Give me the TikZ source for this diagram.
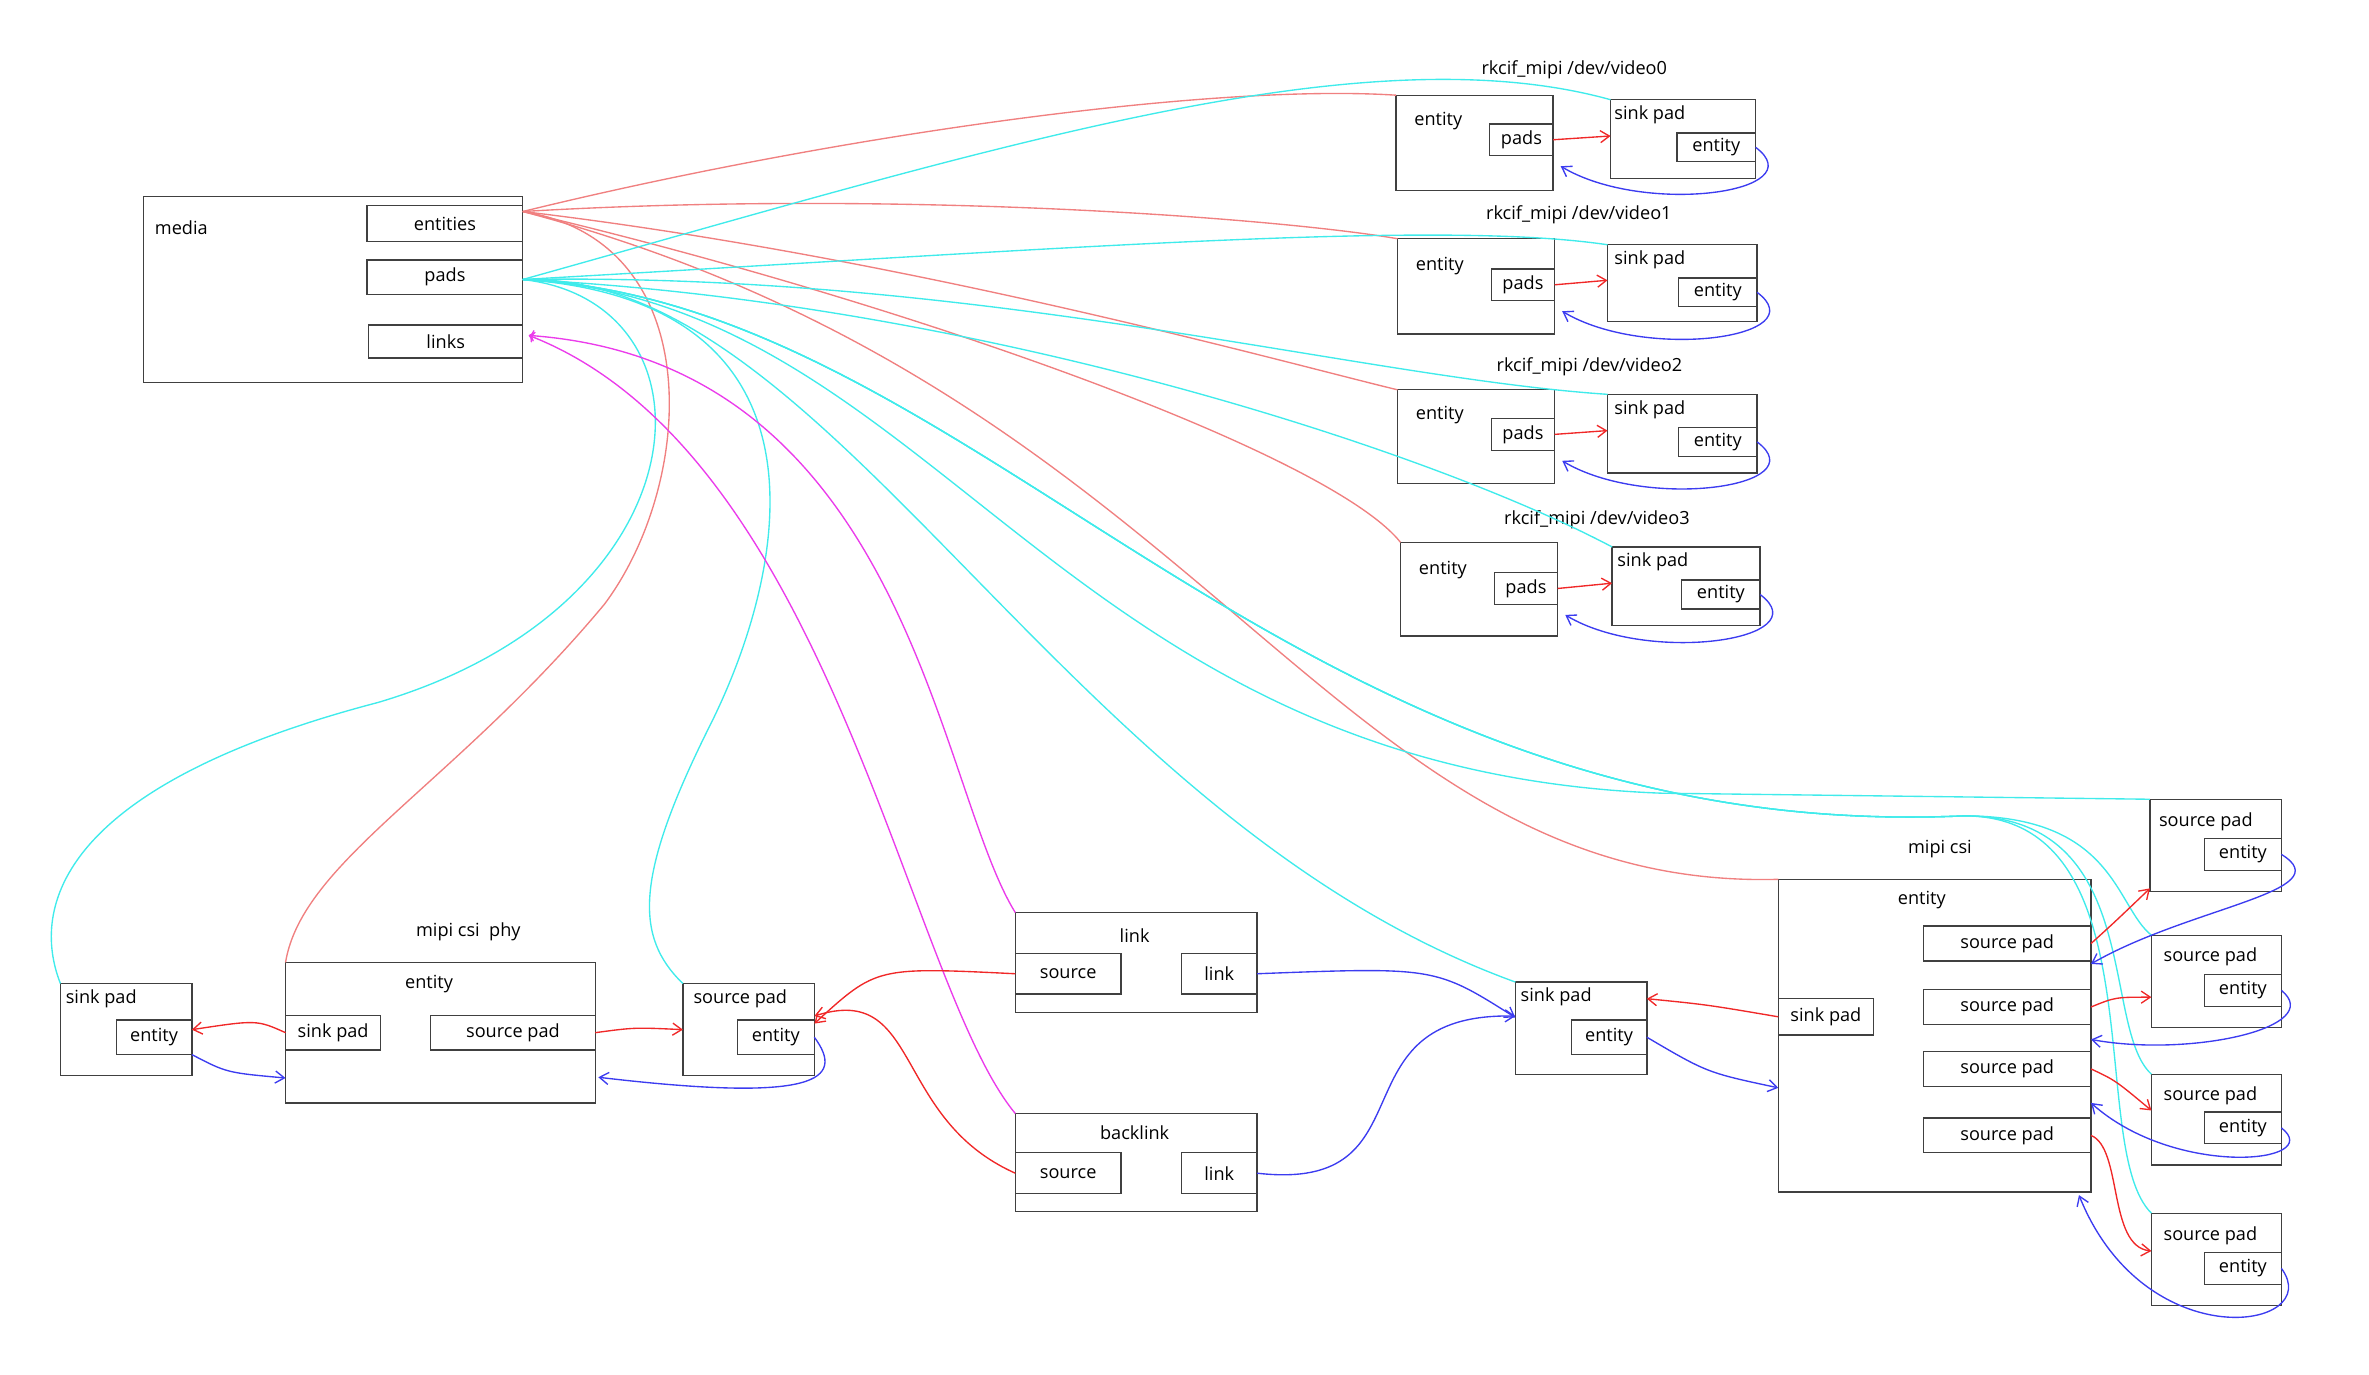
\documentclass[tikz,border=0pt]{standalone}
\usepackage{fontspec}
\setmainfont{Open Sans}
\usetikzlibrary{arrows.meta,calc}
\definecolor{salm}{RGB}{240,128,128}
\definecolor{cy}{RGB}{64,235,235}
\definecolor{mag}{RGB}{235,60,235}
\definecolor{rd}{RGB}{240,40,40}
\definecolor{bl}{RGB}{60,60,240}
\tikzset{box/.style={draw=black!75,line width=0.9pt,inner sep=0,outer sep=0},
 lab/.style={font=\fontsize{12}{14}\selectfont},
 con/.style={line width=0.9pt},
 ar/.style={con,-{Straight Barb[length=6pt,width=8pt]}}}
\newcommand\bx[6]{\pgfmathsetmacro\bw{#4-#2}\pgfmathsetmacro\bh{#5-#3}%
 \node[box,lab,minimum width=\bw pt,minimum height=\bh pt] (#1) at ({(#2+#4)/2},{(#3+#5)/2}) {#6};}
\begin{document}
\begin{tikzpicture}[x=1pt,y=-1pt]
\useasboundingbox (0,0) rectangle (1568,910);
% media
\bx{media}{95}{130}{346}{253}{}
\node[lab] (medial) at (120,151) {media};
\bx{ents}{243}{136}{346}{160}{entities}
\bx{pads}{243}{172}{346}{195}{pads}
\bx{links}{244}{215}{346}{237}{links}
% video nodes
\node[lab] (t0) at (1042,46) {rkcif\_mipi /dev/video0};
\bx{e0}{924}{63}{1028}{126}{}\node[lab] (e0l) at (952,80) {entity};
\bx{p0}{986}{82}{1028}{103}{pads}
\bx{s0}{1066}{66}{1162}{118}{}\node[lab] (s0l) at (1092,76) {sink pad};
\bx{i0}{1110}{88}{1162}{107}{entity}
\node[lab] (t1) at (1045,142) {rkcif\_mipi /dev/video1};
\bx{e1}{925}{158}{1029}{221}{}\node[lab] (e1l) at (953,176) {entity};
\bx{p1}{987}{178}{1029}{199}{pads}
\bx{s1}{1064}{162}{1163}{213}{}\node[lab] (s1l) at (1092,172) {sink pad};
\bx{i1}{1111}{184}{1163}{203}{entity}
\node[lab] (t2) at (1052,243) {rkcif\_mipi /dev/video2};
\bx{e2}{925}{258}{1029}{320}{}\node[lab] (e2l) at (953,275) {entity};
\bx{p2}{987}{277}{1029}{298}{pads}
\bx{s2}{1064}{261}{1163}{313}{}\node[lab] (s2l) at (1092,271) {sink pad};
\bx{i2}{1111}{283}{1163}{302}{entity}
\node[lab] (t3) at (1057,344) {rkcif\_mipi /dev/video3};
\bx{e3}{927}{359}{1031}{421}{}\node[lab] (e3l) at (955,377) {entity};
\bx{p3}{989}{379}{1031}{400}{pads}
\bx{s3}{1067}{362}{1165}{414}{}\node[lab] (s3l) at (1094,372) {sink pad};
\bx{i3}{1113}{384}{1165}{403}{entity}
% bottom
\bx{lsp}{40}{651}{127}{712}{}\node[lab] (lspl) at (67,661) {sink pad};
\bx{lspi}{77}{675}{127}{698}{entity}
\node[lab] (phyt) at (310,617) {mipi csi\ \ phy};
\bx{phy}{189}{637}{394}{730}{}\node[lab] (phyl) at (284,651) {entity};
\bx{physk}{189}{672}{252}{695}{sink pad}
\bx{physr}{285}{672}{394}{695}{source pad}
\bx{srp}{452}{651}{539}{712}{}\node[lab] (srpl) at (490,661) {source pad};
\bx{srpi}{488}{675}{539}{698}{entity}
\bx{lk}{672}{604}{832}{670}{}\node[lab] (lkl) at (751,619) {link};
\bx{lks}{672}{631}{742}{658}{source}
\bx{lkl2}{782}{631}{832}{658}{link}
\bx{bk}{672}{737}{832}{802}{}\node[lab] (bkl) at (751,750) {backlink};
\bx{bks}{672}{763}{742}{790}{source}
\bx{bkl2}{782}{763}{832}{790}{link}
\bx{msp}{1003}{650}{1090}{711}{}\node[lab] (mspl) at (1030,660) {sink pad};
\bx{mspi}{1040}{675}{1090}{698}{entity}
\node[lab] (csit) at (1284,562) {mipi csi};
\bx{csi}{1177}{582}{1384}{789}{}\node[lab] (csil) at (1272,596) {entity};
\bx{csisk}{1177}{661}{1240}{685}{sink pad}
\bx{cs1}{1273}{613}{1384}{636}{source pad}
\bx{cs2}{1273}{655}{1384}{678}{source pad}
\bx{cs3}{1273}{696}{1384}{719}{source pad}
\bx{cs4}{1273}{740}{1384}{763}{source pad}
\bx{r1}{1423}{529}{1510}{590}{}\node[lab] (r1l) at (1460,544) {source pad};
\bx{r1i}{1459}{555}{1510}{576}{entity}
\bx{r2}{1424}{619}{1510}{680}{}\node[lab] (r2l) at (1463,633) {source pad};
\bx{r2i}{1459}{645}{1510}{666}{entity}
\bx{r3}{1424}{711}{1510}{771}{}\node[lab] (r3l) at (1463,725) {source pad};
\bx{r3i}{1459}{736}{1510}{757}{entity}
\bx{r4}{1424}{803}{1510}{864}{}\node[lab] (r4l) at (1463,818) {source pad};
\bx{r4i}{1459}{829}{1510}{850}{entity}
% salmon: entities
\coordinate (E) at (346,140);
\draw[con,salm] (E) .. controls (550,90) and (800,55) .. (e0.north west);
\draw[con,salm] (E) .. controls (600,125) and (850,145) .. (e1.north west);
\draw[con,salm] (E) .. controls (600,170) and (850,240) .. (e2.north west);
\draw[con,salm] (E) .. controls (600,200) and (880,300) .. (e3.north west);
\draw[con,salm] (E) .. controls (800,260) and (880,590) .. (csi.north west);
\draw[con,salm] (E) .. controls (470,160) and (460,320) .. (400,400) .. controls (300,520) and (200,570) .. (phy.north west);
% cyan: pads
\coordinate (P) at (346,185);
\draw[con,cy] (P) .. controls (650,100) and (900,20) .. (s0.north west);
\draw[con,cy] (P) .. controls (700,165) and (950,145) .. (s1.north west);
\draw[con,cy] (P) .. controls (650,180) and (900,250) .. (s2.north west);
\draw[con,cy] (P) .. controls (650,200) and (950,300) .. (s3.north west);
\draw[con,cy] (P) .. controls (480,200) and (470,400) .. (250,465) .. controls (40,520) and (20,600) .. (lsp.north west);
\draw[con,cy] (P) .. controls (560,200) and (520,380) .. (470,480) .. controls (420,580) and (420,620) .. (srp.north west);
\draw[con,cy] (P) .. controls (550,180) and (700,540) .. (msp.north west);
\draw[con,cy] (P) .. controls (620,200) and (700,510) .. (1100,525) -- (r1.north west);
\draw[con,cy] (P) .. controls (650,200) and (850,560) .. (1300,540) .. controls (1400,540) and (1400,600) .. (r2.north west);
\draw[con,cy] (P) .. controls (650,200) and (850,560) .. (1300,540) .. controls (1420,540) and (1390,680) .. (r3.north west);
\draw[con,cy] (P) .. controls (650,200) and (850,560) .. (1300,540) .. controls (1430,540) and (1380,760) .. (r4.north west);
% magenta: links
\coordinate (L) at (350,222);
\draw[ar,mag,<-] (L) .. controls (600,240) and (620,520) .. (lk.north west);
\draw[ar,mag,<-] (L) .. controls (550,300) and (600,650) .. (bk.north west);
% red pads -> sink pads, blue loops
\foreach \i in {0,1,2,3}{
 \draw[ar,rd] (p\i.east) -- ($(s\i.west)+(0,-2)$);
 \draw[ar,bl] (i\i.east) .. controls ($(i\i.east)+(40,30)$) and ($(p\i.south east)+(60,40)$) .. ($(p\i.south east)+(5,7)$);
}
% bottom red/blue
\draw[ar,rd] (physk.west) .. controls (170,675) .. (lsp.east);
\draw[ar,bl] (lspi.south east) .. controls (150,710) .. ($(phy.west)+(0,30)$);
\draw[ar,rd] (physr.east) .. controls (420,680) .. (srp.west);
\draw[ar,bl] (srpi.east) .. controls (560,715) and (540,730) .. (396,713);
\draw[ar,rd] (lks.west) .. controls (580,640) .. ($(srp.east)+(0,-4)$);
\draw[ar,rd] (bks.west) .. controls (590,740) and (610,650) .. ($(srp.east)+(0,-9)$);
\draw[ar,bl] (lkl2.east) .. controls (950,640) .. ($(msp.west)+(0,-7)$);
\draw[ar,bl] (bkl2.east) .. controls (950,790) and (880,670) .. ($(msp.west)+(0,-8)$);
\draw[ar,rd] (csisk.west) .. controls (1130,665) .. ($(msp.north east)+(0,11)$);
\draw[ar,bl] (mspi.east) .. controls (1130,710) .. ($(csi.north west)+(0,138)$);
\draw[ar,rd] (cs1.east) .. controls (1400,610) .. ($(r1.south west)+(0,-2)$);
\draw[ar,rd] (cs2.east) .. controls (1400,660) .. ($(r2.north west)+(0,41)$);
\draw[ar,rd] (cs3.east) .. controls (1400,715) .. ($(r3.north west)+(0,24)$);
\draw[ar,rd] (cs4.east) .. controls (1405,760) and (1395,825) .. ($(r4.north west)+(0,25)$);
\draw[ar,bl] (r1i.east) .. controls (1550,590) and (1450,600) .. ($(csi.north east)+(0,56)$);
\draw[ar,bl] (r2i.east) .. controls (1540,680) and (1450,700) .. ($(csi.north east)+(0,106)$);
\draw[ar,bl] (r3i.east) .. controls (1540,770) and (1440,780) .. ($(csi.north east)+(0,148)$);
\draw[ar,bl] (r4i.east) .. controls (1540,880) and (1420,900) .. ($(csi.south east)+(-8,2)$);
\end{tikzpicture}
\end{document}
